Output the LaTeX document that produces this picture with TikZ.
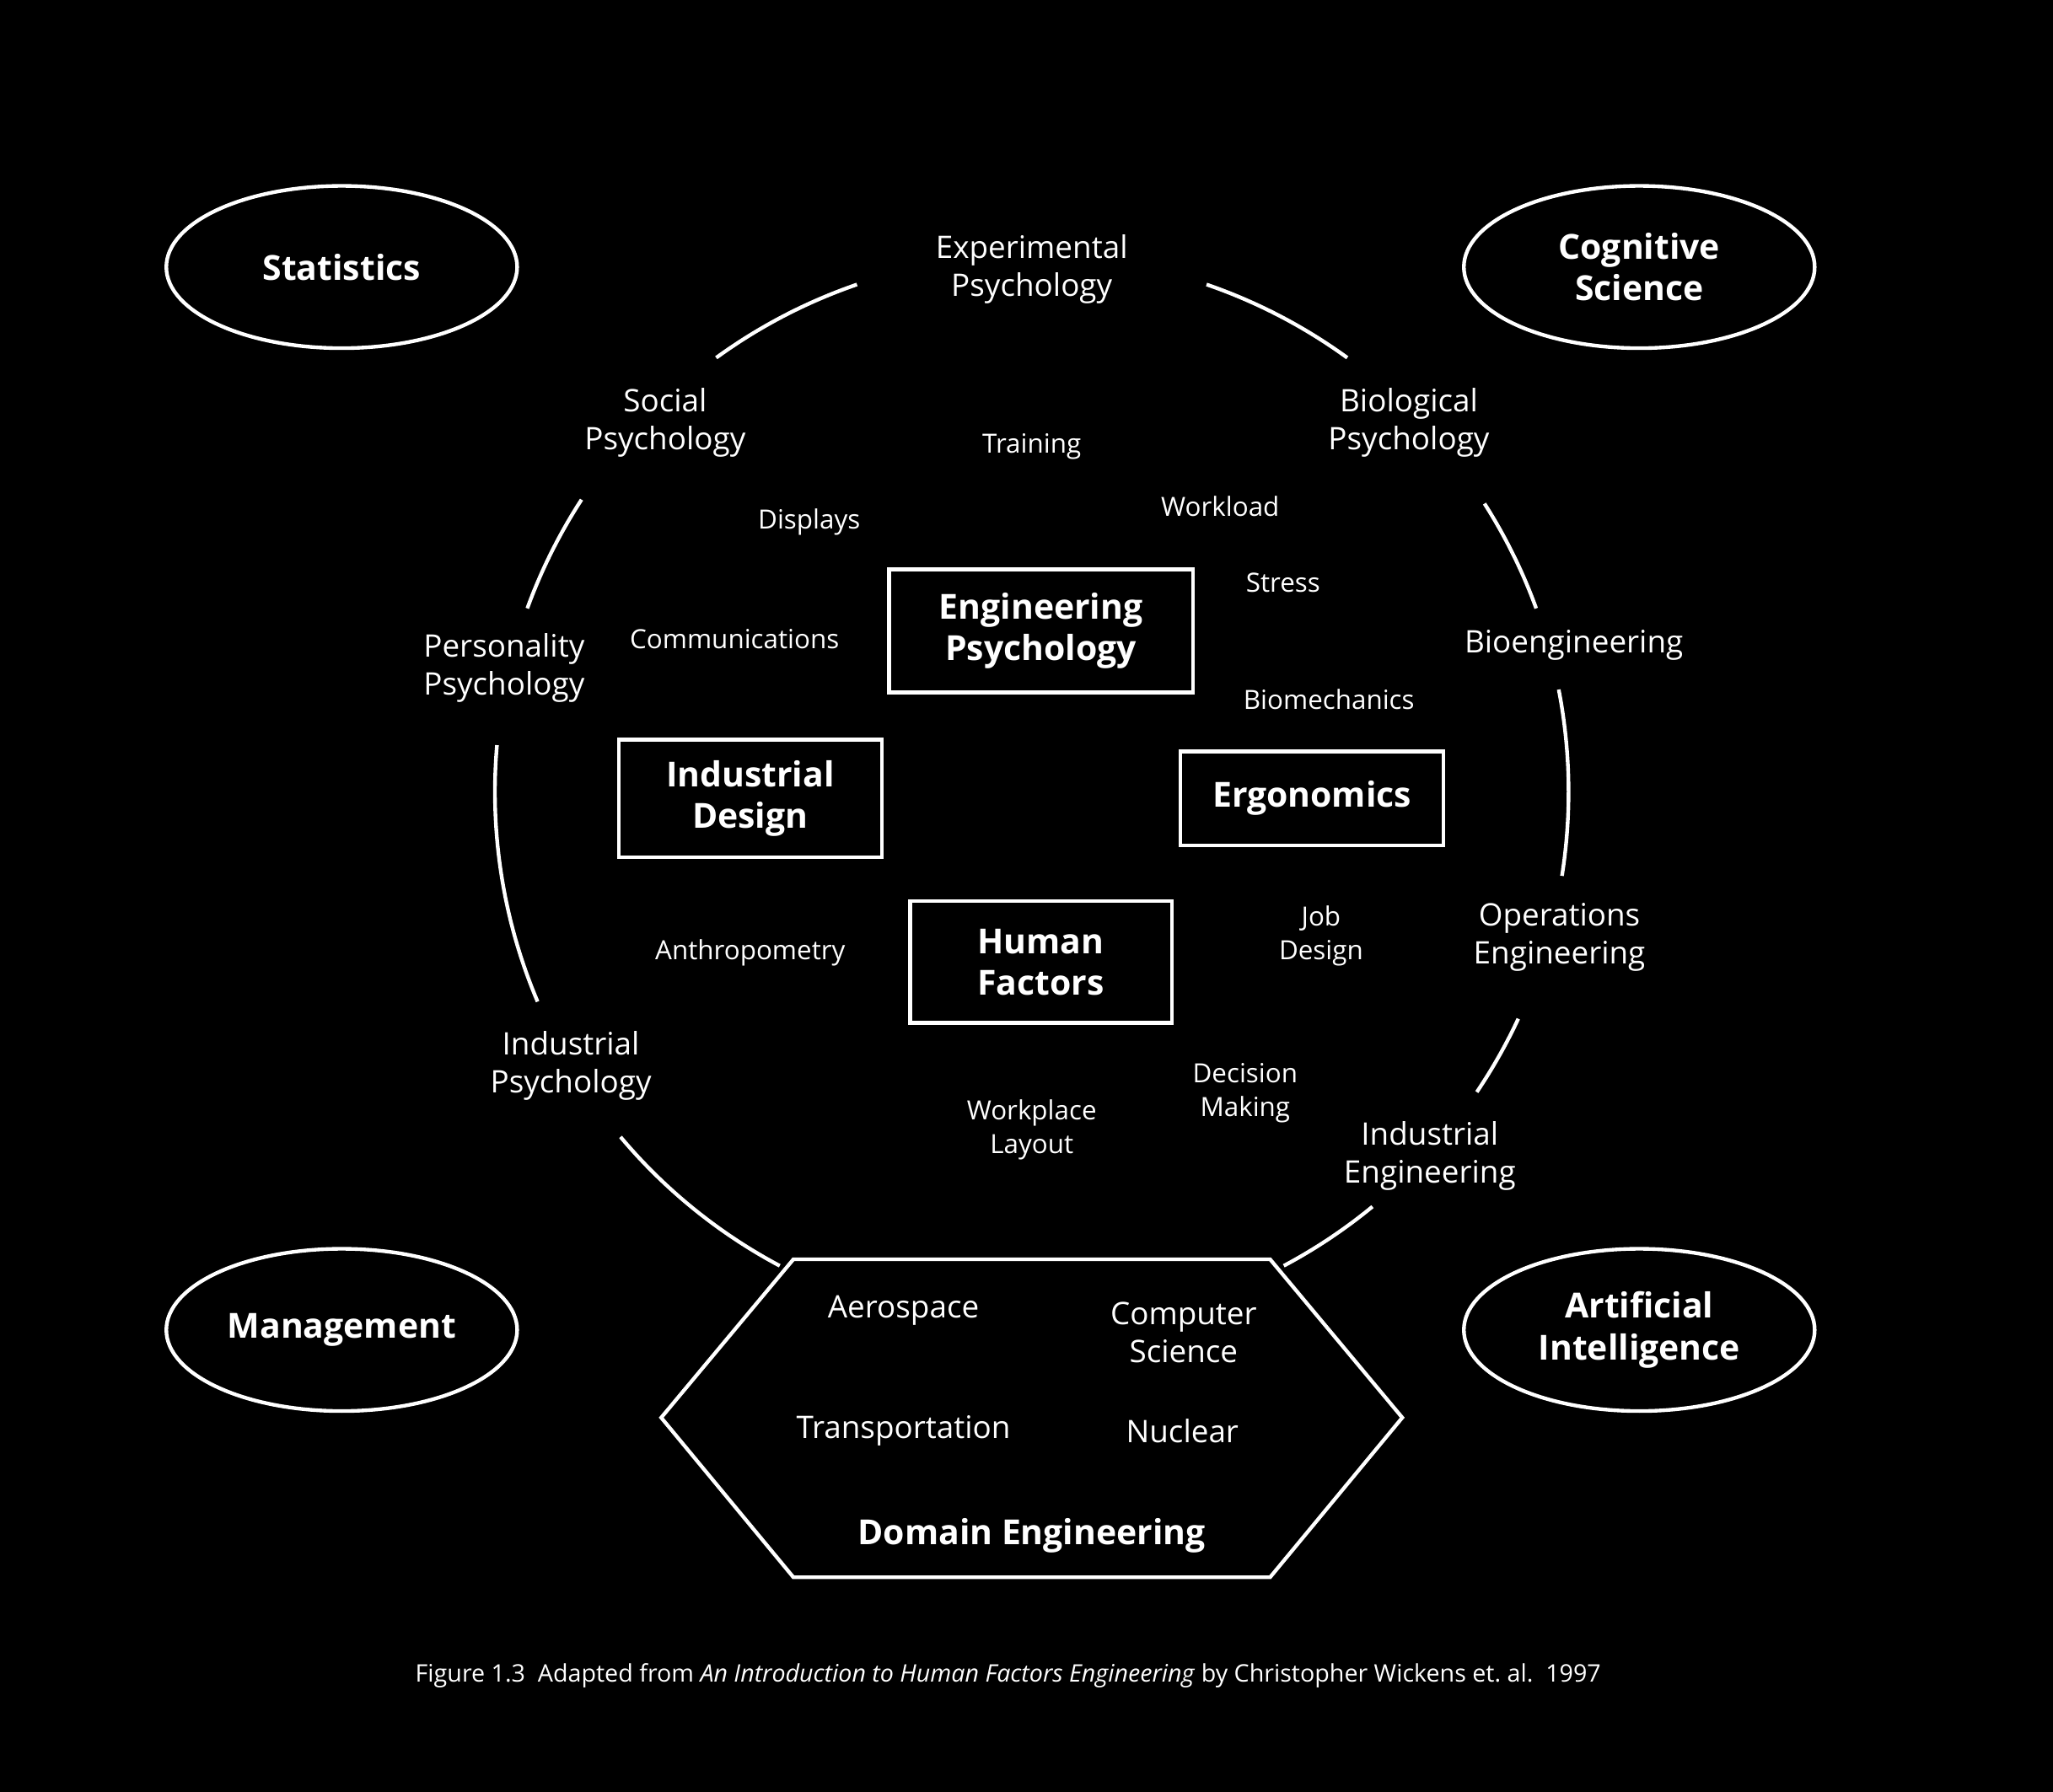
\documentclass[tikz,border=0pt]{standalone}
\usepackage{fontspec}
\setmainfont{Open Sans}
\usetikzlibrary{shapes.geometric}

\tikzset{
  field/.style={draw=white,line width=1.6pt,ellipse,minimum width=5.36cm,minimum height=2.48cm,
    text=white,font=\bfseries\fontsize{15}{18}\selectfont,align=center},
  core/.style={draw=white,line width=1.6pt,text=white,font=\bfseries\fontsize{15}{18}\selectfont,align=center},
  outer/.style={text=white,font=\fontsize{13.5}{16.5}\selectfont,align=center},
  inner/.style={text=white,font=\fontsize{11.5}{14.5}\selectfont,align=center},
  ring/.style={draw=white,line width=1.6pt}
}

\begin{document}
\begin{tikzpicture}[x=0.02cm,y=0.02cm]
  \fill[black] (0,0) rectangle (1568,-1369);
  % corner fields
  \node[field] (stat) at (261,-204) {Statistics};
  \node[field] (cogsci) at (1252,-204) {Cognitive\\Science};
  \node[field] (mgmt) at (261,-1016) {Management};
  \node[field] (ai) at (1252,-1016) {Artificial\\Intelligence};
  % ring
  \coordinate (c) at (788,-605);
  \draw[ring] ([shift={(109:410)}]c) arc(109:126:410);
  \draw[ring] ([shift={(71:410)}]c) arc(71:54:410);
  \draw[ring] ([shift={(147:410)}]c) arc(147:160:410);
  \draw[ring] ([shift={(175:410)}]c) arc(175:203:410);
  \draw[ring] ([shift={(220:410)}]c) arc(220:242:410);
  \draw[ring] ([shift={(32.5:410)}]c) arc(32.5:20:410);
  \draw[ring] ([shift={(11:410)}]c) arc(11:-9:410);
  \draw[ring] ([shift={(-25:410)}]c) arc(-25:-34:410);
  \draw[ring] ([shift={(-50.6:410)}]c) arc(-50.6:-62:410);
  % ring labels
  \node[outer] (exppsy) at (788,-206) {Experimental\\Psychology};
  \node[outer] (socpsy) at (508,-323) {Social\\Psychology};
  \node[outer] (biopsy) at (1076,-323) {Biological\\Psychology};
  \node[outer] (perpsy) at (385,-510) {Personality\\Psychology};
  \node[outer] (bioeng) at (1202,-493) {Bioengineering};
  \node[outer] (opseng) at (1191,-716) {Operations\\Engineering};
  \node[outer] (indpsy) at (436,-814) {Industrial\\Psychology};
  \node[outer] (indeng) at (1092,-883) {Industrial\\Engineering};
  % core disciplines
  \node[core,minimum width=4.64cm,minimum height=1.88cm] (engpsy) at (795,-482) {Engineering\\Psychology};
  \node[core,minimum width=4.02cm,minimum height=1.8cm] (inddes) at (573,-610) {Industrial\\Design};
  \node[core,minimum width=4.02cm,minimum height=1.44cm] (ergo) at (1002,-610) {Ergonomics};
  \node[core,minimum width=4cm,minimum height=1.86cm] (humfac) at (795,-735) {Human\\Factors};
  % topics
  \node[inner] (training) at (788,-341) {Training};
  \node[inner] (workload) at (932,-387) {Workload};
  \node[inner] (displays) at (618,-399) {Displays};
  \node[inner] (stress) at (980,-445) {Stress};
  \node[inner] (comms) at (561,-488) {Communications};
  \node[inner] (biomech) at (1015,-534) {Biomechanics};
  \node[inner] (jobdes) at (1009,-715) {Job\\Design};
  \node[inner] (anthro) at (573,-728) {Anthropometry};
  \node[inner] (decis) at (951,-835) {Decision\\Making};
  \node[inner] (layout) at (788,-863) {Workplace\\Layout};
  % domains
  \draw[ring] (606,-962) -- (970,-962) -- (1071,-1083) -- (970,-1205) -- (606,-1205) -- (505,-1083) -- cycle;
  \node[outer] (aero) at (690,-1001) {Aerospace};
  \node[outer] (compsci) at (904,-1018) {Computer\\Science};
  \node[outer] (transp) at (690,-1093) {Transportation};
  \node[outer] (nuclear) at (903,-1093) {Nuclear};
  \node[core,draw=none] (domain) at (788,-1173) {Domain Engineering};
  % caption
  \node[text=white,font=\fontsize{10.5}{13}\selectfont] (caption) at (770,-1280)
    {Figure 1.3\ \ Adapted from \emph{An Introduction to Human Factors Engineering} by Christopher Wickens et.\ al.\ \ 1997};
\end{tikzpicture}
\end{document}
